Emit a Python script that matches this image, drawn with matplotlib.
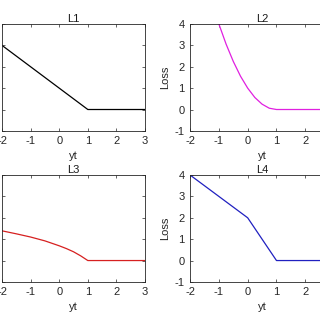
import matplotlib
matplotlib.use("Agg")
import matplotlib.pyplot as plt

plt.rcParams['font.family'] = ['Liberation Sans', 'DejaVu Sans']
plt.rcParams['axes.unicode_minus'] = False

# %% values
yt_l1 = [-2, 1, 3]
loss_l1 = [3, 0, 0]

yt_l2 = [-2, -1.75, -1.5, -1.25, -1, -0.75, -0.5, -0.25, 0, 0.25, 0.5, 0.75, 1, 3]
loss_l2 = [9, 7.56, 6.25, 5.06, 4, 3.06, 2.25, 1.56, 1, 0.56, 0.25, 0.06, 0, 0]

yt_l3 = [-2, -1.5, -1, -0.5, 0, 0.25, 0.5, 0.75, 1, 3]
loss_l3 = [1.39, 1.25, 1.10, 0.92, 0.69, 0.56, 0.41, 0.22, 0, 0]

yt_l4 = [-2, 0, 1, 3]
loss_l4 = [4, 2, 0, 0]

titles = ["L1", "L2", "L3", "L4"]
colors = ["black", "#e020e0", "#d62020", "#2020c0"]
xticks = [-2, -1, 0, 1, 2, 3]
yticks = [-1, 0, 1, 2, 3, 4]

# %% figure: a crop of a larger 2x2 panel
fig = plt.figure(figsize=(3.2, 3.2), dpi=100)
boxes = [
    [0.00625, 0.591, 0.447, 0.334],
    [0.594, 0.591, 0.45, 0.334],
    [0.00625, 0.119, 0.447, 0.334],
    [0.594, 0.119, 0.45, 0.334],
]
data = [(yt_l1, loss_l1), (yt_l2, loss_l2), (yt_l3, loss_l3), (yt_l4, loss_l4)]

for i, (box, (x, y)) in enumerate(zip(boxes, data)):
    ax = fig.add_axes(box)
    ax.plot(x, y, color=colors[i], lw=0.9)
    ax.set_xlim(-2, 3)
    ax.set_ylim(-1, 4)
    ax.set_xticks(xticks)
    ax.set_yticks(yticks)
    ax.tick_params(direction="in", top=True, right=True, length=2.5,
                   width=0.5, labelsize=8, colors="#262626", pad=4)
    for s in ax.spines.values():
        s.set_linewidth(0.6)
        s.set_color("#262626")
    ax.set_title(titles[i], fontsize=8, pad=1.5, color="#1a1a1a")
    ax.set_xlabel("yt", fontsize=8, labelpad=3, color="#262626")
    ax.set_ylabel("Loss", fontsize=8, labelpad=3, color="#262626")

fig.savefig("out.png", dpi=100)
